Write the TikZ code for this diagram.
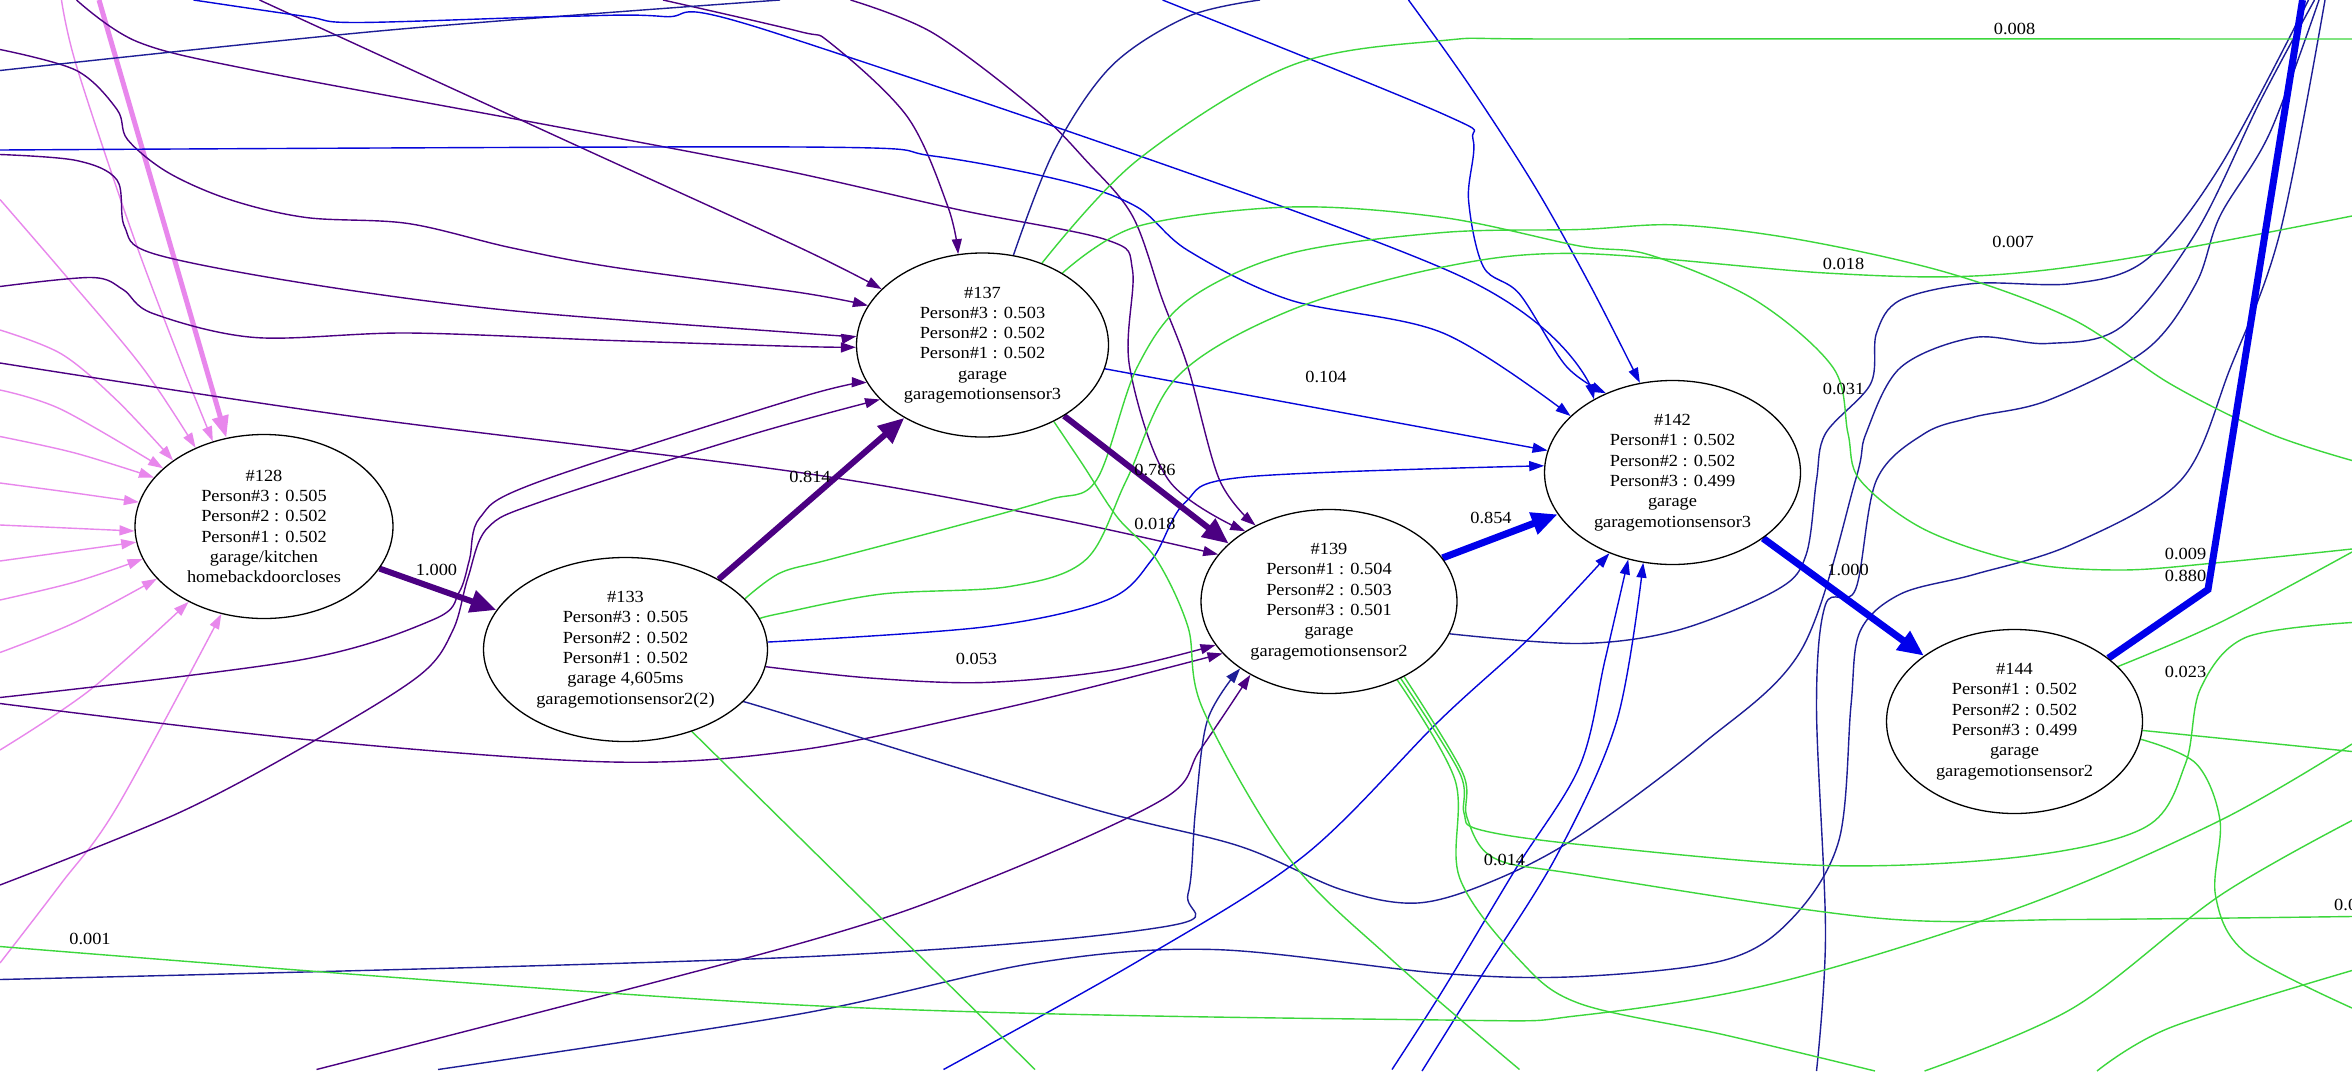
\documentclass[tikz,border=0pt]{standalone}
\usepackage{fontspec}
\setmainfont{Liberation Serif}[FakeStretch=1.08]
\usetikzlibrary{shapes.geometric,arrows.meta}
\definecolor{cInd}{RGB}{75,0,130}
\definecolor{cVio}{RGB}{232,135,236}
\definecolor{cNavy}{RGB}{30,30,150}
\definecolor{cBlue}{RGB}{0,0,235}
\definecolor{cGrn}{RGB}{60,215,60}
\newcommand\gvfont{\fontsize{17}{20.3}\selectfont}
\pgfdeclarelayer{edgelayer}
\pgfsetlayers{edgelayer,main}
\begin{document}
\begin{tikzpicture}[x=1.5pt,y=-1.5pt,
  gvnode/.style={ellipse,draw,fill=white,line width=1.3pt,inner sep=0pt,align=center,font=\gvfont,minimum height=184pt},
  lbl/.style={font=\gvfont,inner sep=0pt},
  thinl/.style={line width=1.4pt},
  tip/.style={-{Triangle[length=15pt,width=10pt]}},
  bigtip/.style={-{Triangle[length=26pt,width=22pt]}},
  vio/.style={thinl,draw=cVio},
  ind/.style={thinl,draw=cInd},
  nav/.style={thinl,draw=cNavy},
  blu/.style={thinl,draw=cBlue!80!cNavy},
  grn/.style={thinl,draw=cGrn},
  sm/.style={smooth,tension=0.55}
]
\useasboundingbox (0,0) rectangle (1568,714);
% nodes
\node[gvnode,minimum width=258pt] (n128) at (176,351) {\#128\\Person\#3 : 0.505\\Person\#2 : 0.502\\Person\#1 : 0.502\\garage/kitchen\\homebackdoorcloses};
\node[gvnode,minimum width=284pt] (n133) at (417,433) {\#133\\Person\#3 : 0.505\\Person\#2 : 0.502\\Person\#1 : 0.502\\garage 4,605ms\\garagemotionsensor2(2)};
\node[gvnode,minimum width=252pt] (n137) at (655,230) {\#137\\Person\#3 : 0.503\\Person\#2 : 0.502\\Person\#1 : 0.502\\garage\\garagemotionsensor3};
\node[gvnode,minimum width=256pt] (n139) at (886,401) {\#139\\Person\#1 : 0.504\\Person\#2 : 0.503\\Person\#3 : 0.501\\garage\\garagemotionsensor2};
\node[gvnode,minimum width=256pt] (n142) at (1115,315) {\#142\\Person\#1 : 0.502\\Person\#2 : 0.502\\Person\#3 : 0.499\\garage\\garagemotionsensor3};
\node[gvnode,minimum width=256pt] (n144) at (1343,481) {\#144\\Person\#1 : 0.502\\Person\#2 : 0.502\\Person\#3 : 0.499\\garage\\garagemotionsensor2};

\begin{pgfonlayer}{edgelayer}
\fill[white] (0,0) rectangle (1568,714);
% ---------- violet edges into 128
\draw[vio,line width=5pt,-{Triangle[length=22pt,width=16pt]}] (66,0) -- (n128.113);
\draw[vio,tip] plot[sm] coordinates {(41,0) (51,44) (88,155) (120,240) (n128.121)};
\draw[vio,tip] plot[sm] coordinates {(0,133) (44,184) (95,245) (n128.131)};
\draw[vio,tip] plot[sm] coordinates {(0,220) (41,236) (78,267) (n128.144)};
\draw[vio,tip] plot[sm] coordinates {(0,260) (41,273) (n128.150)};
\draw[vio,tip] plot[sm] coordinates {(0,291) (50,302) (n128.156)};
\draw[vio,tip] plot[sm] coordinates {(0,322) (45,328) (n128.169)};
\draw[vio,tip] plot[sm] coordinates {(0,350) (n128.182)};
\draw[vio,tip] plot[sm] coordinates {(0,374) (n128.187)};
\draw[vio,tip] plot[sm] coordinates {(0,400) (50,388) (n128.195)};
\draw[vio,tip] plot[sm] coordinates {(0,435) (50,415) (n128.206)};
\draw[vio,tip] plot[sm] coordinates {(0,500) (60,460) (n128.225)};
\draw[vio,tip] plot[sm] coordinates {(0,642) (40,590) (78,538) (n128.244)};
% ---------- indigo thin
\draw[ind,tip] plot[sm] coordinates {(442,0) (533,21) (554,29) (605,78) (632,138) (n137.105)};
\draw[ind,tip] plot[sm] coordinates {(173,0) (380,95) (533,165) (n137.151)};
\draw[ind,tip] plot[sm] coordinates {(0,33) (51,47) (78,73) (85,93) (112,115) (153,133) (204,145) (272,149) (340,165) (408,178) (533,195) (n137.161)};
\draw[ind,tip] plot[sm] coordinates {(0,103) (51,107) (78,120) (83,151) (102,169) (204,189) (340,207) (533,222) (n137.176)};
\draw[ind,tip] plot[sm] coordinates {(0,191) (61,185) (82,193) (102,209) (170,225) (272,222) (408,227) (533,231) (n137.181)};
\draw[ind,tip] plot[sm] coordinates {(0,465) (200,440) (289,413) (306,395) (313,373) (320,345) (357,322) (533,265) (n137.198)};
\draw[ind,tip] plot[sm] coordinates {(0,590) (119,542) (211,493) (280,450) (302,420) (312,385) (325,352) (362,334) (500,290) (n137.208)};
\draw[ind,tip] plot[sm] coordinates {(0,242) (238,278) (533,315) (700,345) (n139.157)};
\draw[ind,tip] plot[sm] coordinates {(51,0) (92,28) (170,47) (374,85) (520,113) (640,140) (738,160) (755,180) (753,244) (779,320) (n139.140)};
\draw[ind,tip] plot[sm] coordinates {(567,0) (622,22) (690,73) (724,107) (755,144) (775,200) (792,245) (813,320) (n139.134)};
\draw[ind,tip] plot[sm] coordinates {(n133.-7) (580,452) (656,455) (740,447) (n139.201)};
\draw[ind,tip] plot[sm] coordinates {(0,469) (204,493) (408,508) (533,500) (656,475) (740,455) (n139.206)};
\draw[ind,tip] plot[sm] coordinates {(211,713) (533,629) (656,587) (775,533) (800,500) (n139.223)};
\draw[nav,tip] plot[sm] coordinates {(0,653) (533,638) (775,618) (792,596) (797,540) (805,480) (n139.217)};
% ---------- blue / navy
\draw[nav] plot[sm] coordinates {(0,47) (260,20) (520,0)};
\draw[blu,tip] plot[sm] coordinates {(0,100) (533,98) (622,104) (711,121) (758,138) (792,167) (860,200) (962,222) (n142.151)};
\draw[blu,tip] plot[sm] coordinates {(129,0) (204,11) (238,15) (374,11) (442,11) (520,23) (969,182) (n142.137)};
\draw[blu,tip] plot[sm] coordinates {(775,0) (962,76) (982,93) (979,133) (989,178) (1013,196) (1044,244) (n142.130)};
\draw[blu,tip] plot[sm] coordinates {(939,0) (979,56) (1023,124) (1060,190) (n142.110)};
\draw[blu,tip] (n137.-11) -- (n142.170);
\draw[blu,tip] plot[sm] coordinates {(n133.3) (656,418) (738,400) (768,373) (790,335) (830,318) (n142.177)};
\draw[nav] plot[sm] coordinates {(n137.71) (703,100) (741,44) (792,11) (840,0)};
\draw[nav] plot[sm] coordinates {(n133.-24) (520,475) (724,538) (826,564) (894,593) (945,602) (996,587) (1053,557) (1135,496) (1201,433) (1237,320) (1244,289) (1267,245) (1316,225) (1365,229) (1414,218) (1464,155) (1507,67) (1543,0)};
\draw[nav] plot[sm] coordinates {(n139.-15) (1053,429) (1119,420) (1185,393) (1204,370) (1211,320) (1217,289) (1247,256) (1251,222) (1267,200) (1316,189) (1382,189) (1431,173) (1480,111) (1539,0)};
\draw[nav] plot[sm] coordinates {(1211,714) (1217,622) (1211,471) (1217,403) (1237,393) (1251,320) (1283,289) (1316,278) (1365,267) (1431,233) (1464,189) (1480,144) (1513,89) (1546,0)};
\draw[nav] plot[sm] coordinates {(292,713) (533,676) (690,642) (809,633) (962,649) (1053,651) (1150,640) (1195,612) (1226,560) (1234,470) (1240,421) (1267,396) (1316,383) (1381,363) (1454,320) (1487,245) (1520,155) (1550,0)};
\draw[blu,tip] plot[sm] coordinates {(629,713) (760,640) (870,570) (960,480) (1020,425) (n142.232)};
\draw[blu,tip] plot[sm] coordinates {(928,713) (962,660) (1010,580) (1053,511) (1070,440) (n142.243)};
\draw[blu,tip] plot[sm] coordinates {(948,714) (988,650) (1038,570) (1078,480) (n142.252)};
% ---------- green
\draw[grn] plot[sm] coordinates {(n137.54) (758,107) (860,44) (962,27) (1053,26) (1568,26)};
\draw[grn] plot[sm] coordinates {(n137.42) (758,151) (860,138) (962,145) (1053,164) (1100,170) (1170,200) (1222,245) (1232,289) (1240,320) (1283,353) (1349,375) (1414,380) (1480,375) (1568,366)};
\draw[grn] plot[sm] coordinates {(n133.23) (520,382) (553,373) (640,350) (700,333) (731,320) (758,245) (792,200) (860,169) (962,155) (1053,153) (1119,150) (1201,160) (1299,182) (1382,213) (1447,256) (1513,289) (1568,307)};
\draw[grn] plot[sm] coordinates {(n133.13) (520,409) (588,396) (673,391) (724,373) (751,320) (785,251) (860,207) (962,178) (1053,169) (1217,182) (1316,184) (1414,173) (1568,144)};
\draw[grn] plot[sm] coordinates {(n137.-47) (722,310) (745,345) (771,373) (792,418) (802,473) (860,573) (928,640) (1013,713)};
\draw[grn] (n133.-51) -- (690,713);
\draw[grn] plot[sm] coordinates {(n139.-47) (973,515) (976,542) (986,553) (1053,563) (1217,577) (1349,571) (1431,551) (1457,509) (1467,459) (1497,425) (1568,415)};
\draw[grn] plot[sm] coordinates {(n139.-45) (975,515) (978,545) (996,572) (1053,583) (1251,612) (1382,613) (1568,611)};
\draw[grn] plot[sm] coordinates {(n139.-49) (970,520) (973,585) (1013,640) (1053,669) (1150,690) (1250,714)};
\draw[grn] plot[sm] coordinates {(0,631) (533,670) (962,680) (1053,677) (1185,655) (1349,604) (1480,547) (1568,496)};
\draw[grn] plot[sm] coordinates {(n144.28) (1480,415) (1568,368)};
\draw[grn] (n144.-4) -- (1568,501);
\draw[grn] plot[sm] coordinates {(n144.-8) (1464,509) (1480,547) (1477,597) (1497,635) (1568,672)};
\draw[grn] plot[sm] coordinates {(1568,547) (1480,597) (1382,672) (1283,714)};
\draw[grn] plot[sm] coordinates {(1568,647) (1447,685) (1398,714)};
% ---------- thick edges
\draw[cInd,line width=6pt,bigtip] (n128.-20) -- (n133.163);
\draw[cInd,line width=6pt,bigtip] (n133.37) -- (n137.223);
\draw[cInd,line width=6pt,bigtip] (n137.319) -- (n139.150);
\draw[cBlue,line width=7pt,bigtip] (n139.21) -- (n142.200);
\draw[cBlue,line width=7pt,bigtip] (n142.324) -- (n144.144);
\draw[cBlue,line width=7pt] (n144.34) -- (1472,393) -- (1535,0);
\end{pgfonlayer}
% ---------- labels
\node[lbl] (l1) at (291,380) {1.000};
\node[lbl] (l2) at (540,318) {0.814};
\node[lbl] (l3) at (770,313) {0.786};
\node[lbl] (l4) at (770,349) {0.018};
\node[lbl] (l5) at (884,251) {0.104};
\node[lbl] (l6) at (651,439) {0.053};
\node[lbl] (l7) at (994,345) {0.854};
\node[lbl] (l8) at (1232,380) {1.000};
\node[lbl] (l9) at (1457,384) {0.880};
\node[lbl] (l10) at (1457,369) {0.009};
\node[lbl] (l11) at (1457,448) {0.023};
\node[lbl] (l12) at (1003,573) {0.014};
\node[lbl] (l13) at (60,626) {0.001};
\node[lbl] (l14) at (1343,19) {0.008};
\node[lbl] (l15) at (1342,161) {0.007};
\node[lbl] (l16) at (1229,176) {0.018};
\node[lbl] (l17) at (1229,259) {0.031};
\node[lbl,anchor=west] (l18) at (1556,603) {0.001};
\end{tikzpicture}
\end{document}
